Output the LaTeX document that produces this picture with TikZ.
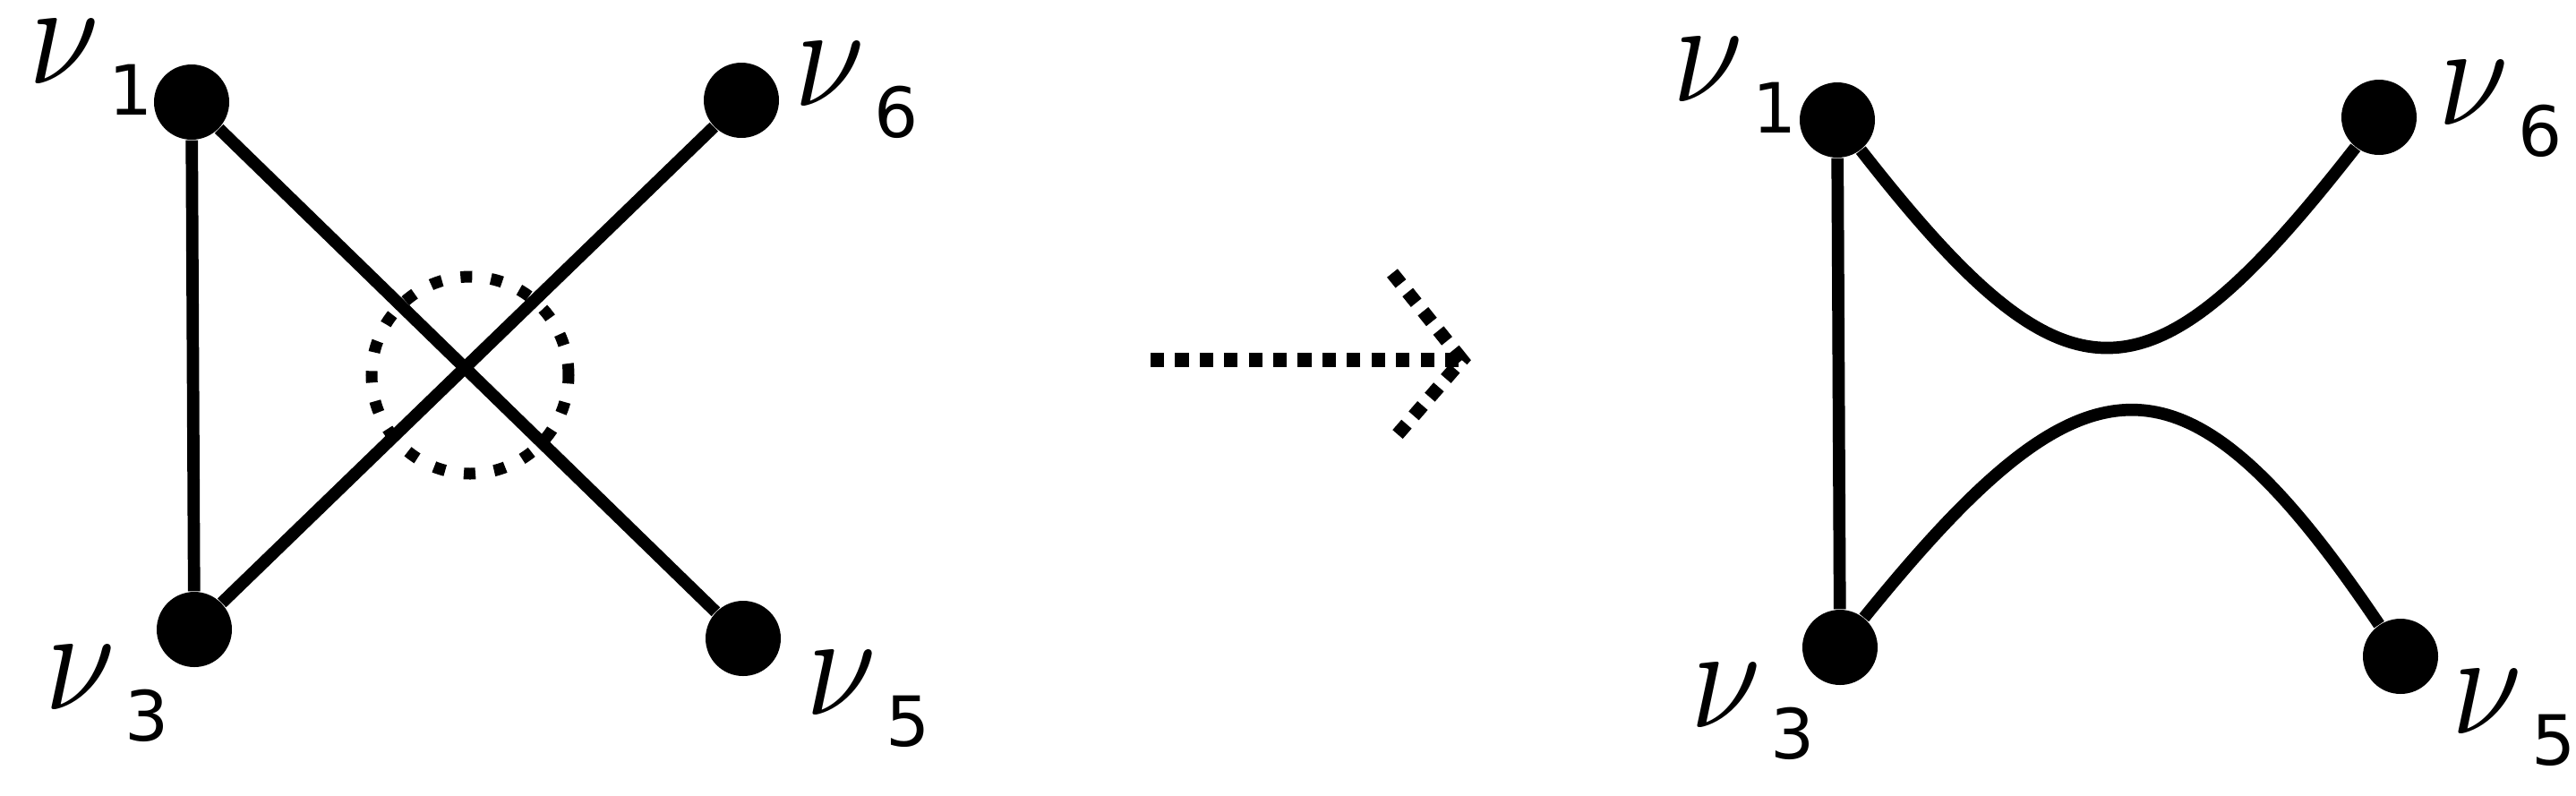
\documentclass[tikz,border=0pt]{standalone}
\usepackage{graphicx}
\usepackage{fontspec}
\newfontfamily\digitfont{DejaVu Sans}
\usepackage{tikz}
\usetikzlibrary{positioning}

\newcommand{\nulabel}[1]{\scalebox{4.0}[4.7]{$\nu$}\hspace{3pt}\raisebox{-10pt}{\fontsize{22}{22}\digitfont #1}}

\begin{document}
\begin{tikzpicture}[
    vertex/.style={circle, fill=black, inner sep=0pt, minimum size=0.84cm},
    edge/.style={line width=3.9pt},
    lbl/.style={inner sep=0pt, anchor=base west},
    dotcirc/.style={line width=3.7pt, dash pattern=on 3.7pt off 6pt},
    dotline/.style={line width=4.3pt, dash pattern=on 4.3pt off 3.5pt}
]
    \useasboundingbox (0,0) rectangle (28.77,-8.88);

    % before: edges v1-v5 and v6-v3 cross
    \node[vertex] (v1) at (2.14,-1.14) {};
    \node[vertex] (v6) at (8.28,-1.12) {};
    \node[vertex] (v3) at (2.17,-7.03) {};
    \node[vertex] (v5) at (8.30,-7.13) {};

    \node[lbl] (l1) at (0.32,-0.93) {\nulabel{1}};
    \node[lbl] (l6) at (8.87,-1.18) {\nulabel{6}};
    \node[lbl] (l3) at (0.50,-7.92) {\nulabel{3}};
    \node[lbl] (l5) at (9.00,-7.98) {\nulabel{5}};

    \draw[edge] (v1) -- (v3);
    \draw[edge] (v1) -- (v5);
    \draw[edge] (v6) -- (v3);

    \coordinate (cross) at (5.25,-4.19);
    \draw[dotcirc] (cross) circle (1.10);

    % dotted arrow
    \coordinate (astart) at (12.85,-4.02);
    \coordinate (atip) at (16.33,-4.02);
    \draw[dotline] (astart) -- (atip);
    \draw[dotline] (atip) ++(-0.78,0.97) -- (atip) -- ++(-0.78,-0.90);

    % after: the crossing is resolved
    \node[vertex] (w1) at (20.52,-1.34) {};
    \node[vertex] (w6) at (26.57,-1.31) {};
    \node[vertex] (w3) at (20.55,-7.23) {};
    \node[vertex] (w5) at (26.81,-7.33) {};

    \node[lbl] (m1) at (18.68,-1.13) {\nulabel{1}};
    \node[lbl] (m6) at (27.23,-1.39) {\nulabel{6}};
    \node[lbl] (m3) at (18.88,-8.12) {\nulabel{3}};
    \node[lbl] (m5) at (27.38,-8.19) {\nulabel{5}};

    \draw[edge] (w1) -- (w3);
    \draw[edge] (w1) to[out=-52, in=-128, looseness=1.74] (w6);
    \draw[edge] (w3) to[out=51, in=124, looseness=1.74] (w5);
\end{tikzpicture}
\end{document}
